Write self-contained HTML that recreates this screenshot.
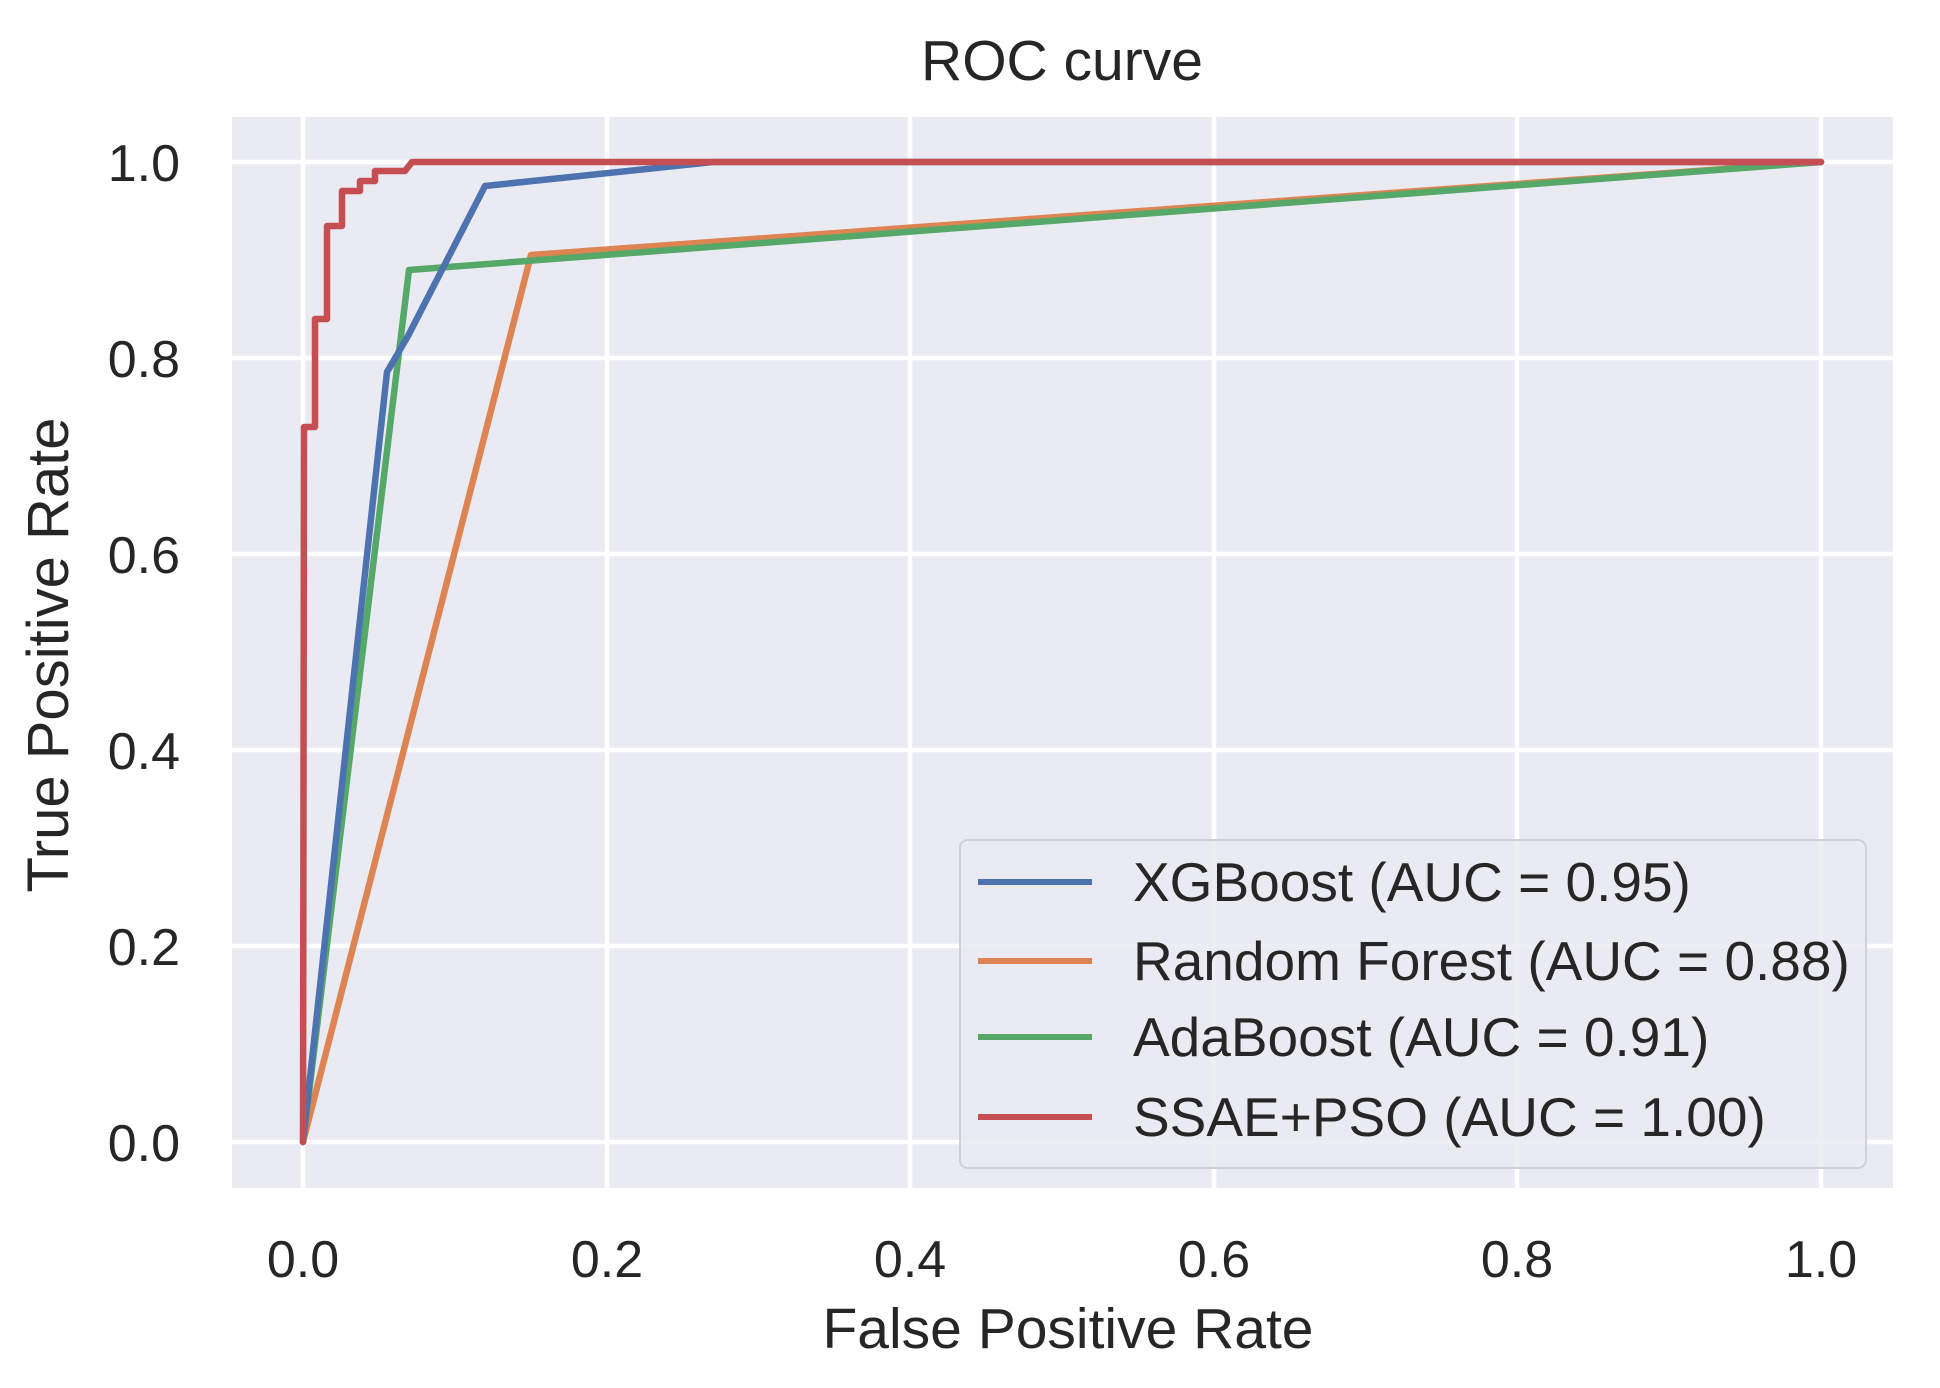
<!DOCTYPE html>
<html><head><meta charset="utf-8"><style>
html,body{margin:0;padding:0;background:#fff;}
svg{display:block;font-family:"Liberation Sans",Arial,sans-serif;}
</style></head><body>
<svg width="1940" height="1388" viewBox="0 0 1940 1388" xmlns="http://www.w3.org/2000/svg">
<rect x="232" y="117" width="1661" height="1071" fill="#eaeaf2"/>
<g stroke="#fff" stroke-width="4.5">
<line x1="303" y1="117" x2="303" y2="1188"/>
<line x1="607" y1="117" x2="607" y2="1188"/>
<line x1="910" y1="117" x2="910" y2="1188"/>
<line x1="1214" y1="117" x2="1214" y2="1188"/>
<line x1="1517" y1="117" x2="1517" y2="1188"/>
<line x1="1821" y1="117" x2="1821" y2="1188"/>
<line x1="232" y1="1142" x2="1893" y2="1142"/>
<line x1="232" y1="946" x2="1893" y2="946"/>
<line x1="232" y1="750" x2="1893" y2="750"/>
<line x1="232" y1="554" x2="1893" y2="554"/>
<line x1="232" y1="358" x2="1893" y2="358"/>
<line x1="232" y1="162" x2="1893" y2="162"/>
</g>
<g fill="none" stroke-width="6.5" stroke-linejoin="round" stroke-linecap="round">
<polyline stroke="#dd8452" points="303,1142 531,255 1821,162"/>
<polyline stroke="#55a868" points="303,1142 409,270 1821,162"/>
<polyline stroke="#4c72b0" points="303,1142 387,372 408,336 485,186 713,162 1821,162"/>
<polyline stroke="#c44e52" points="303,1142 304,427 315,427 315,319 327,319 327,226 342,226 342,191 360,191 360,181 375,181 375,171 405,171 412,162 1821,162"/>
</g>
<g font-size="52" fill="#262626" text-anchor="middle">
<text x="303" y="1277">0.0</text>
<text x="607" y="1277">0.2</text>
<text x="910" y="1277">0.4</text>
<text x="1214" y="1277">0.6</text>
<text x="1517" y="1277">0.8</text>
<text x="1821" y="1277">1.0</text>
</g>
<g font-size="52" fill="#262626" text-anchor="end">
<text x="180" y="1161">0.0</text>
<text x="180" y="965">0.2</text>
<text x="180" y="769">0.4</text>
<text x="180" y="573">0.6</text>
<text x="180" y="377">0.8</text>
<text x="180" y="181">1.0</text>
</g>
<text x="1062" y="80" font-size="57" fill="#262626" text-anchor="middle">ROC curve</text>
<text x="1068" y="1348" font-size="57" fill="#262626" text-anchor="middle">False Positive Rate</text>
<text transform="translate(68,655) rotate(-90)" font-size="58" fill="#262626" text-anchor="middle">True Positive Rate</text>
<rect x="960" y="840" width="906" height="328" rx="8" fill="#eaeaf2" fill-opacity="0.85" stroke="#d0d0d8" stroke-width="2"/>
<g stroke-width="6">
<line x1="978" y1="882" x2="1092" y2="882" stroke="#4c72b0"/>
<line x1="978" y1="961" x2="1092" y2="961" stroke="#dd8452"/>
<line x1="978" y1="1037" x2="1092" y2="1037" stroke="#55a868"/>
<line x1="978" y1="1117" x2="1092" y2="1117" stroke="#c44e52"/>
</g>
<g font-size="55" fill="#262626">
<text x="1133" y="901">XGBoost (AUC = 0.95)</text>
<text x="1133" y="980">Random Forest (AUC = 0.88)</text>
<text x="1133" y="1056">AdaBoost (AUC = 0.91)</text>
<text x="1133" y="1136">SSAE+PSO (AUC = 1.00)</text>
</g>
</svg>
</body></html>
